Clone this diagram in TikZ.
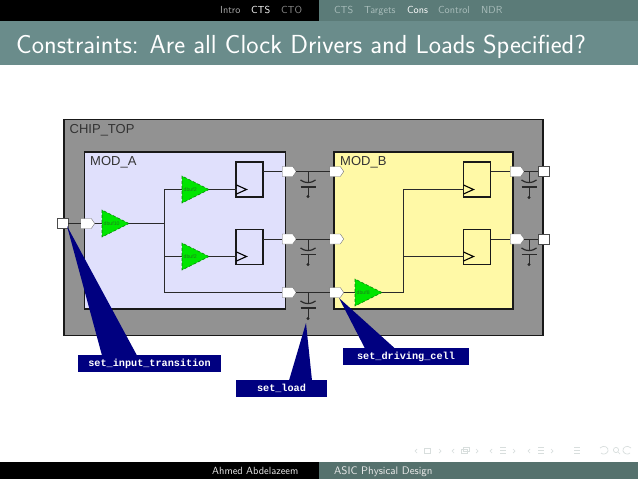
\documentclass[tikz,border=0pt]{standalone}
\usepackage{fontspec}
\newfontfamily\arialf{Liberation Sans}
\newfontfamily\courf{Liberation Mono}[BoldFont={Liberation Mono Bold}]
\usetikzlibrary{shapes.geometric,shapes.symbols,arrows.meta,calc}
\definecolor{barteal}{HTML}{6A8C8B}
\definecolor{navteal}{HTML}{5B7B78}
\definecolor{footteal}{HTML}{55716D}
\definecolor{chipgray}{HTML}{929292}
\definecolor{modA}{HTML}{E0E0FC}
\definecolor{modB}{HTML}{FFF9A6}
\definecolor{navyc}{HTML}{000080}
\definecolor{wire}{HTML}{2A2A2A}
\definecolor{navdim}{HTML}{A9BDBB}
\definecolor{navsym}{HTML}{D8DEDD}
\definecolor{buftext}{HTML}{1F7A1F}
\tikzset{
  box/.style={draw=black!90,line width=1.5pt,anchor=north west,inner sep=0,outer sep=0},
  modlabel/.style={anchor=west,inner sep=0,text=black!80,font=\arialf\fontsize{13}{15}\selectfont},
  portp/.style={signal,signal to=east,signal pointer angle=110,draw=black!55,line width=.4pt,fill=white,minimum width=14pt,minimum height=10pt,inner sep=0,outer sep=0},
  pad/.style={draw=black!70,line width=.5pt,fill=white,minimum width=11pt,minimum height=10pt,inner sep=0,outer sep=0},
  bufg/.style={isosceles triangle,isosceles triangle stretches,shape border rotate=0,anchor=lower side,draw=black!50!green,densely dashed,line width=.6pt,fill=green!90!black,minimum width=27pt,minimum height=27pt,inner sep=0,outer sep=0},
  buflabel/.style={anchor=west,inner sep=0,text=buftext,font=\arialf\fontsize{5.2}{6}\selectfont},
  ffbox/.style={draw=black!90,line width=1.3pt,inner sep=0,outer sep=0,minimum width=27pt,minimum height=35pt},
  wireline/.style={draw=wire,line width=1pt},
  callbox/.style={fill=navyc,inner sep=0,outer sep=0,text=white,font=\courf\bfseries\fontsize{10.2}{12}\selectfont},
  navt/.style={anchor=base west,inner sep=0,font=\sffamily\fontsize{10.2}{12}\selectfont},
  nsym/.style={draw=navsym,line width=.7pt},
}
\newcommand{\capsym}[4]{% x, y top plate, y flat plate, y end
  \draw[wireline,-{Circle[length=3pt]}] (#1,#3) -- (#1,#4);
  \draw[wireline,line width=1.2pt] (#1-7.5,#2-2) .. controls (#1-3,#2+1.5) and (#1+3,#2+1.5) .. (#1+7.5,#2-2);
  \draw[wireline,line width=1.2pt] (#1-7.5,#3) -- (#1+7.5,#3);
}
\newcommand{\ckpin}[1]{\draw[black,line width=1.1pt] ($(#1)+(0,-4.5)$) -- ($(#1)+(10,0)$) -- ($(#1)+(0,4.5)$);}
\begin{document}
\begin{tikzpicture}[x=1pt,y=-1pt]
\useasboundingbox (0,0) rectangle (638,479);
% slide frame
\fill[white] (0,0) rectangle (638,479);
\fill[black] (0,0) rectangle (319,21);
\fill[navteal] (319,0) rectangle (638,21);
\fill[barteal] (0,21) rectangle (638,65);
\fill[black] (0,462) rectangle (319,479);
\fill[footteal] (319,462) rectangle (638,479);
\node[navt,text=white!65!black] (n1) at (220,13) {Intro};
\node[navt,text=white] (n2) at (251,13) {CTS};
\node[navt,text=white!55!black] (n3) at (281,13) {CTO};
\node[navt,text=navdim] (n4) at (334,13) {CTS};
\node[navt,text=navdim] (n5) at (364,13) {Targets};
\node[navt,text=white] (n6) at (407,13) {Cons};
\node[navt,text=navdim] (n7) at (438,13) {Control};
\node[navt,text=navdim] (n8) at (481,13) {NDR};
\node[anchor=base west,inner sep=0,text=white,font=\sffamily\fontsize{26.1}{30}\selectfont] (title) at (16,53) {Constraints: Are all Clock Drivers and Loads Specified?};
\node[anchor=base west,inner sep=0,text=white!92!black,font=\sffamily\fontsize{10.4}{12}\selectfont] (auth) at (212,474.5) {Ahmed Abdelazeem};
\node[anchor=base west,inner sep=0,text=white!92!black,font=\sffamily\fontsize{10.9}{12}\selectfont] (ttl) at (334,474.5) {ASIC Physical Design};
% navigation symbols
\draw[nsym] (424,448) rectangle (430,453);
\draw[nsym] (461,449) rectangle (467,453) (463,447) rectangle (469,451);
\draw[nsym] (500,447) -- (506,447) (500,450) -- (506,450) (500,453) -- (506,453);
\draw[nsym] (538,447) -- (544,447) (538,450) -- (544,450) (538,453) -- (544,453);
\draw[nsym] (574,447) -- (580,447) (574,450) -- (580,450) (574,453) -- (580,453);
\draw[nsym] (417,449) -- (415,451) -- (417,453) (439,449) -- (441,451) -- (439,453);
\draw[nsym] (454,449) -- (452,451) -- (454,453) (476,449) -- (478,451) -- (476,453);
\draw[nsym] (492,449) -- (490,451) -- (492,453) (513,449) -- (515,451) -- (513,453);
\draw[nsym] (530,449) -- (528,451) -- (530,453) (551,449) -- (553,451) -- (551,453);
\draw[nsym] (600,448) .. controls (604,444) and (609,448) .. (608,451) .. controls (607,454) and (603,455) .. (601,453);
\draw[nsym] (616,450) circle (2.6) (618,452) -- (620,454);
\draw[nsym] (631,448) .. controls (627,444) and (622,448) .. (623,451) .. controls (624,454) and (628,455) .. (630,453);
% blocks
\node[box,fill=chipgray,minimum width=479pt,minimum height=216pt] (chip) at (64,119.5) {};
\node[box,fill=modA,minimum width=201pt,minimum height=157pt] (moda) at (84.5,152) {};
\node[box,fill=modB,minimum width=179pt,minimum height=157pt] (modb) at (334,152) {};
\node[modlabel] (chiplbl) at (69.5,130.5) {CHIP\_TOP};
\node[modlabel] (modalbl) at (90,162.5) {MOD\_A};
\node[modlabel] (modblbl) at (340,162.5) {MOD\_B};
% coordinates
\coordinate (tA) at (164,223.5);
\coordinate (tAu) at (164,189.5);
\coordinate (tAm) at (164,256.5);
\coordinate (tAl) at (164,292.5);
\coordinate (tB) at (403,292.5);
\coordinate (tBu) at (403,189.5);
\coordinate (tBm) at (403,256.5);
\coordinate (ckA1) at (236.5,189.5);
\coordinate (ckA2) at (236.5,256.5);
\coordinate (ckB1) at (463.5,189.5);
\coordinate (ckB2) at (463.5,256.5);
\coordinate (cA) at (308,171.5);
\coordinate (cB) at (308,239);
\coordinate (cC) at (308,292.5);
\coordinate (cD) at (529,171.5);
\coordinate (cE) at (529,239);
% parts
\node[pad] (inpad) at (62.5,223.5) {};
\node[portp] (inport) at (86,223.5) {};
\node[bufg] (b10) at (102,223.5) {};
\node[bufg] (b2u) at (182,189.5) {};
\node[bufg] (b2l) at (182,256.5) {};
\node[bufg] (b8) at (355,292.5) {};
\node[ffbox] (ffA1) at (249.5,179.5) {};
\node[ffbox] (ffA2) at (249.5,247) {};
\node[ffbox] (ffB1) at (477,179.5) {};
\node[ffbox] (ffB2) at (477,247) {};
\node[portp] (pA1) at (287.5,171.5) {};
\node[portp] (pA2) at (287.5,239) {};
\node[portp] (pA3) at (287.5,292.5) {};
\node[portp] (pB1) at (335,171.5) {};
\node[portp] (pB2) at (335,239) {};
\node[portp] (pB3) at (335,292.5) {};
\node[portp] (pO1) at (515.5,171.5) {};
\node[portp] (pO2) at (515.5,239) {};
\node[pad] (oP1) at (543.5,171.5) {};
\node[pad] (oP2) at (543.5,239) {};
% connectors
\begin{scope}[wireline]
\draw (inpad) -- (inport);
\draw (inport) -- (b10.lower side);
\draw (b10.apex) -- (tA);
\draw (tAu) -- (tAl);
\draw (tAu) -- (b2u.lower side);
\draw (tAm) -- (b2l.lower side);
\draw (b2u.apex) -- (ckA1);
\draw (b2l.apex) -- (ckA2);
\draw (tAl) -- (pA3);
\draw (ffA1.east |- pA1) -- (pA1);
\draw (ffA2.east |- pA2) -- (pA2);
\draw (pA1) -- (pB1);
\draw (pA2) -- (pB2);
\draw (pA3) -- (pB3);
\draw (pB3) -- (b8.lower side);
\draw (b8.apex) -- (tB);
\draw (tB) -- (tBu);
\draw (tBu) -- (ckB1);
\draw (tBm) -- (ckB2);
\draw (ffB1.east |- pO1) -- (pO1);
\draw (ffB2.east |- pO2) -- (pO2);
\draw (pO1) -- (oP1);
\draw (pO2) -- (oP2);
\draw (cA) -- (308,182);
\draw (cB) -- (308,250);
\draw (cC) -- (308,303);
\draw (cD) -- (529,182);
\draw (cE) -- (529,250);
\end{scope}
\node[buflabel] at ($(b10.lower side)+(1.5,0)$) {dbuf10};
\node[buflabel] at ($(b2u.lower side)+(1.5,0)$) {dbuf2};
\node[buflabel] at ($(b2l.lower side)+(1.5,0)$) {dbuf2};
\node[buflabel] at ($(b8.lower side)+(1.5,0)$) {dbuf8};
\ckpin{ckA1}\ckpin{ckA2}\ckpin{ckB1}\ckpin{ckB2}
\capsym{308}{182}{187}{198}
\capsym{308}{250}{254.5}{266}
\capsym{308}{303}{308}{320}
\capsym{529}{182}{187}{199}
\capsym{529}{250}{254.5}{266}
% callouts
\node[callbox,minimum width=143pt,minimum height=17pt] (c1) at (149.5,363.5) {set\_input\_transition};
\node[callbox,minimum width=91pt,minimum height=17pt] (c2) at (281.5,388.5) {set\_load};
\node[callbox,minimum width=126pt,minimum height=17pt] (c3) at (406,356.5) {set\_driving\_cell};
\coordinate (t1) at (67,226);
\coordinate (t2) at (306,323);
\coordinate (t3) at (339,298);
\fill[navyc] (t1) -- (102,355.5) -- (137,355.5) -- cycle;
\fill[navyc] (t2) -- (289,380.5) -- (312,380.5) -- cycle;
\fill[navyc] (t3) -- (365,348.5) -- (395,348.5) -- cycle;
\end{tikzpicture}
\end{document}
